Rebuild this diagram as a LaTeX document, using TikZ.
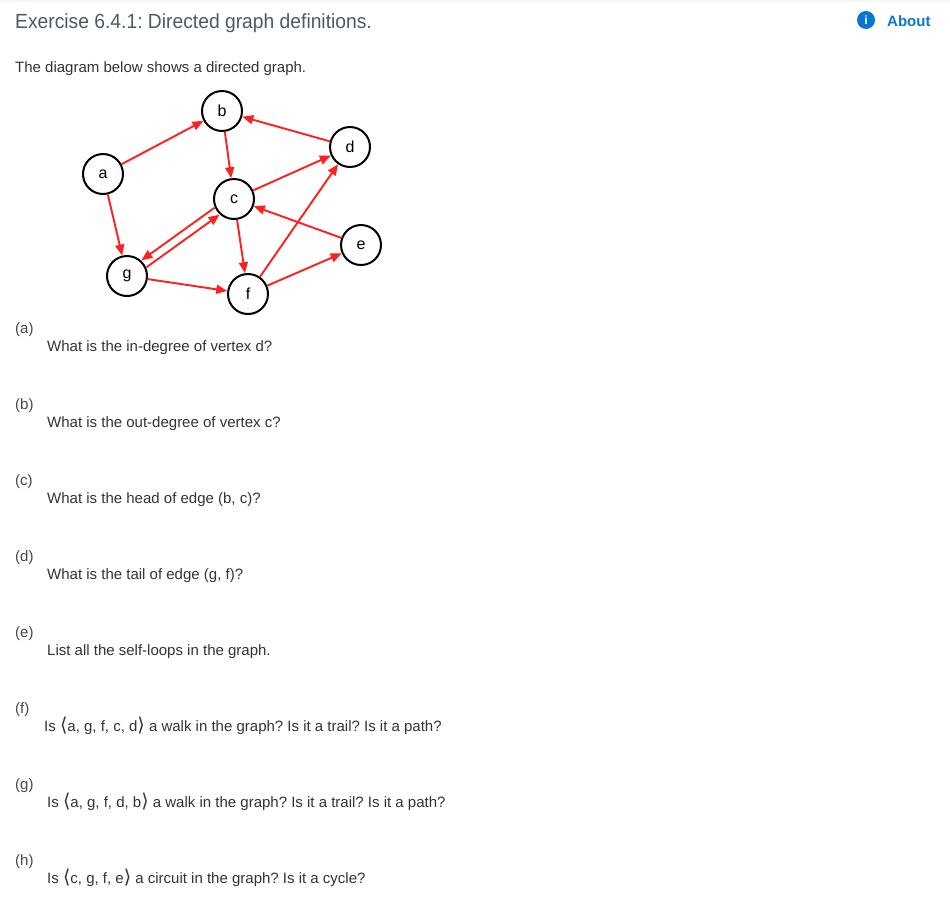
\documentclass[tikz,border=0pt]{standalone}
\usepackage{fontspec}
\setmainfont{Liberation Sans}
\newfontfamily\symfont{DejaVu Sans}
\usetikzlibrary{arrows.meta}

\definecolor{edgered}{RGB}{252,32,32}
\definecolor{titlegray}{RGB}{75,90,102}
\definecolor{textgray}{RGB}{51,51,51}
\definecolor{aboutblue}{RGB}{8,118,204}

% angle brackets of a sequence
\newcommand\seqopen{{\fontsize{19}{19}\symfont ⟨}}
\newcommand\seqclose{{\fontsize{19}{19}\symfont ⟩}}

\frenchspacing

\begin{document}
\begin{tikzpicture}[x=1pt,y=-1pt,
  vertex/.style={circle,draw=black,line width=2pt,fill=white,minimum size=40pt,inner sep=0pt,font=\fontsize{16}{18}\selectfont},
  edge/.style={draw=edgered,line width=1.9pt,-{Triangle[length=11pt,width=9pt]}},
  qlabel/.style={anchor=base west,inner sep=0pt,text=textgray!90,font=\fontsize{15}{18}\selectfont},
  qtext/.style={anchor=base west,inner sep=0pt,text=textgray,font=\fontsize{15}{18}\selectfont}]

\useasboundingbox (0,0) rectangle (950,903);
\fill[black!4] (0,0) rectangle (950,2);

% Header
\node[anchor=base west,inner sep=0pt,text=titlegray,font=\fontsize{20.5}{24}\addfontfeature{FakeStretch=0.94}] (title) at (15,28) {Exercise 6.4.1: Directed graph definitions.};
\node[circle,fill=aboutblue,minimum size=18pt,inner sep=0pt,text=white,font=\fontsize{12}{12}\bfseries] (info) at (866,20) {i};
\node[anchor=base west,inner sep=0pt,text=aboutblue,font=\fontsize{15}{18}\bfseries] (about) at (887,26) {About};
\node[anchor=base west,inner sep=0pt,text=textgray,font=\fontsize{15}{18}\selectfont] (intro) at (15,72) {The diagram below shows a directed graph.};

% The vertices
\node[vertex] (a) at (103,174) {a};
\node[vertex] (b) at (222,111) {b};
\node[vertex] (c) at (234,199) {c};
\node[vertex] (d) at (350,147) {d};
\node[vertex] (e) at (361,245) {e};
\node[vertex] (g) at (127,276) {g};
\node[vertex] (f) at (248,294) {f};

% The edges
\draw[edge] (a) -- (b);
\draw[edge] (a) -- (g);
\draw[edge] (b) -- (c);
\draw[edge] (d) -- (b);
\draw[edge] (c) -- (d);
\draw[edge] (c) -- (f);
\draw[edge] (e) -- (c);
\draw[edge] (f) -- (d);
\draw[edge] (f) -- (e);
\draw[edge] (g) -- (f);
\draw[edge,transform canvas={shift={(-2.6,-3.4)}}] (c) -- (g);
\draw[edge,transform canvas={shift={(2.6,3.4)}}] (g) -- (c);

% The questions
\def\qstep{76}
\foreach \l/\x/\q [count=\i from 0] in {
  a/47/{What is the in-degree of vertex d?},
  b/47/{What is the out-degree of vertex c?},
  c/47/{What is the head of edge (b, c)?},
  d/47/{What is the tail of edge (g, f)?},
  e/47/{List all the self-loops in the graph.},
  f/44/{Is \seqopen a, g, f, c, d\seqclose\ a walk in the graph? Is it a trail? Is it a path?},
  g/47/{Is \seqopen a, g, f, d, b\seqclose\ a walk in the graph? Is it a trail? Is it a path?},
  h/47/{Is \seqopen c, g, f, e\seqclose\ a circuit in the graph? Is it a cycle?}}
{
  \node[qlabel] (lab\l) at (15,333+\qstep*\i) {(\l)};
  \node[qtext] (q\l) at (\x,351+\qstep*\i) {\q};
}

\end{tikzpicture}
\end{document}
